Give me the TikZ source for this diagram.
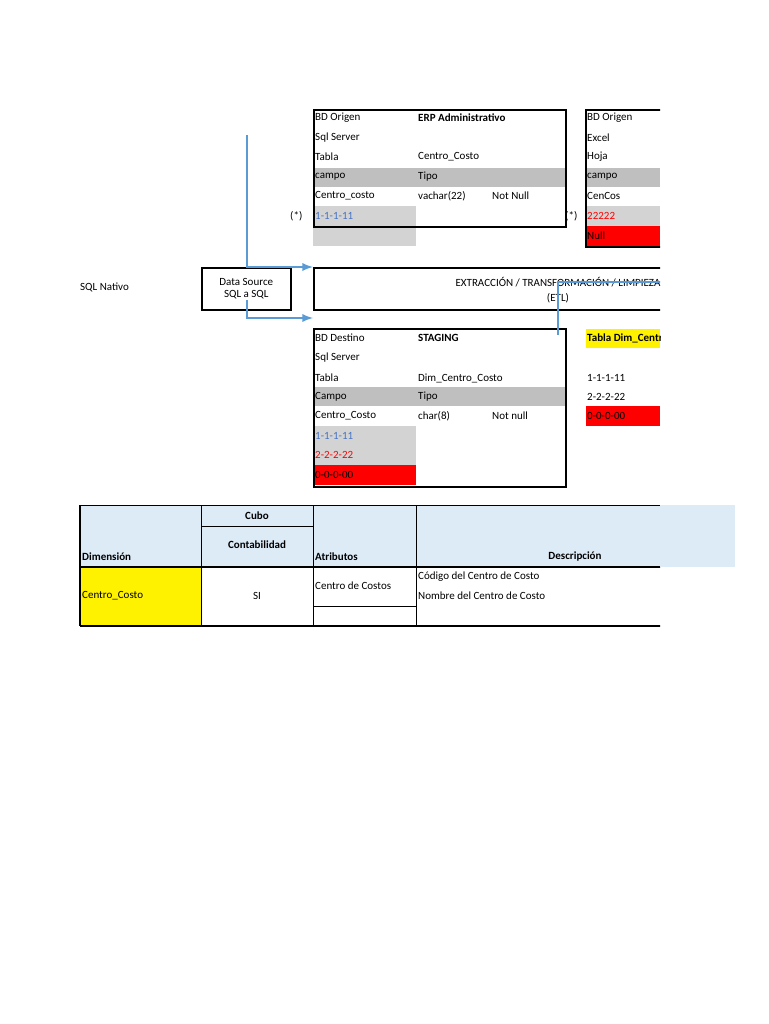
\documentclass[tikz,border=0pt]{standalone}
\usepackage{fontspec}
\setmainfont{Carlito}
\begin{document}
\begin{tikzpicture}[x=1pt,y=-1pt,
  t/.style={anchor=west,inner sep=0pt,font=\fontsize{11}{12}\selectfont},
  tb/.style={t,font=\fontsize{11}{12}\selectfont\bfseries},
  box/.style={draw=black,line width=1.6pt},
  conn/.style={draw={rgb,255:red,91;green,155;blue,213},line width=2.6pt},
  arr/.style={conn,-latex}]
\definecolor{lg}{RGB}{211,211,211}
\definecolor{mg}{RGB}{191,191,191}
\definecolor{hb}{RGB}{221,235,247}
\definecolor{bl}{RGB}{68,114,196}
\useasboundingbox (0,0) rectangle (768,1024);
\fill[white] (0,0) rectangle (768,1024);
\begin{scope}
\clip (0,0) rectangle (660,1024);
% Box 1
\fill[mg] (313,168) rectangle (565,187);
\fill[lg] (313,206) rectangle (416,246);
\node[box,minimum width=252pt,minimum height=117pt,anchor=north west,inner sep=0pt] (b1) at (313,109) {};
\node[t] (b1a) at (315,118) {BD Origen}; \node[tb] at (418,118) {ERP Administrativo};
\node[t] at (315,138) {Sql Server};
\node[t] at (315,157) {Tabla}; \node[t] at (418,157) {Centro\_Costo};
\node[t] at (315,177) {campo}; \node[t] at (418,177) {Tipo};
\node[t] at (315,196) {Centro\_costo}; \node[t] at (418,196) {vachar(22)}; \node[t] at (492,196) {Not Null};
\node[t,text=bl] at (315,216) {1-1-1-11};
\node[t] at (290,216) {(*)};
% Box 2
\fill[mg] (585,168) rectangle (660,187);
\fill[lg] (585,206) rectangle (660,226);
\fill[red] (585,226) rectangle (660,246);
\node[box,minimum width=120pt,minimum height=137pt,anchor=north west,inner sep=0pt] (b2) at (585,109) {};
\node[t] at (587,118) {BD Origen};
\node[t] at (587,138) {Excel};
\node[t] at (587,157) {Hoja};
\node[t] at (587,177) {campo};
\node[t] at (587,196) {CenCos};
\node[t,text=red] at (587,216) {22222};
\node[t] at (587,236) {Null};
\node[t] at (565,216) {(*)};
% Source
\node[t] (sqln) at (80,287) {SQL Nativo};
\node[box,minimum width=89pt,minimum height=42pt,anchor=north west,inner sep=0pt,align=center,font=\fontsize{11}{12}\selectfont] (ds) at (201,267) {Data Source\\SQL a SQL};
\node[box,minimum width=420pt,minimum height=42pt,anchor=north west,inner sep=0pt] (etl) at (313,267) {};
\node[inner sep=0pt,align=center,font=\fontsize{11}{15}\selectfont] (etlt) at (558,290) {EXTRACCIÓN / TRANSFORMACIÓN / LIMPIEZA\\(ETL)};
% Box 3
\fill[mg] (313,387) rectangle (565,406);
\fill[lg] (313,426) rectangle (416,465);
\fill[red] (313,465) rectangle (416,485);
\node[box,minimum width=252pt,minimum height=158pt,anchor=north west,inner sep=0pt] (b3) at (313,328) {};
\node[t] (b3a) at (315,338) {BD Destino}; \node[tb] at (418,338) {STAGING};
\node[t] at (315,358) {Sql Server};
\node[t] at (315,378) {Tabla}; \node[t] at (418,378) {Dim\_Centro\_Costo};
\node[t] at (315,397) {Campo}; \node[t] at (418,397) {Tipo};
\node[t] at (315,416) {Centro\_Costo}; \node[t] at (418,416) {char(8)}; \node[t] at (492,416) {Not null};
\node[t,text=bl] at (315,436) {1-1-1-11};
\node[t,text=red] at (315,455) {2-2-2-22};
\node[t] at (315,475) {0-0-0-00};
% right list
\fill[yellow] (586,329) rectangle (660,348);
\fill[red] (586,406) rectangle (660,426);
\node[tb] at (587,338) {Tabla Dim\_Centro\_Costo};
\node[t] at (587,378) {1-1-1-11};
\node[t] at (587,397) {2-2-2-22};
\node[t] at (587,416) {0-0-0-00};
% connectors
\coordinate (c1) at (247,135);
\coordinate (c2) at (247,300);
\coordinate (c3) at (558,335);
\draw[arr] (c1) |- (etl.north west);
\draw[arr] (c2) |- ([yshift=10pt]b3.north west);
\draw[conn] (c3) |- (700,282);
% table
\fill[hb] (80,505) rectangle (735,567);
\fill[yellow] (80,567) rectangle (201,626);
\draw[line width=0.8pt] (80,505) -- (735,505);
\draw[line width=0.8pt] (201,526) -- (313,526);
\draw[line width=1.6pt] (80,567) -- (735,567);
\draw[line width=1.6pt] (80,626) -- (735,626);
\draw[line width=0.8pt] (313,606) -- (416,606);
\draw[line width=1.2pt] (80,505) -- (80,626);
\foreach \x in {201,313,416} \draw[line width=0.8pt] (\x,505) -- (\x,626);
\node[tb] (h1) at (82,557) {Dimensión};
\node[tb,anchor=center] (h2) at (257,516) {Cubo};
\node[tb,anchor=center] (h3) at (257,545) {Contabilidad};
\node[tb] (h4) at (315,557) {Atributos};
\node[tb,anchor=center] (h5) at (575,557) {Descripción};
\node[t] (r1) at (82,596) {Centro\_Costo};
\node[t,anchor=center] (r2) at (257,596) {SI};
\node[t] (r3) at (315,586) {Centro de Costos};
\node[t] (r4) at (418,577) {Código del Centro de Costo};
\node[t] (r5) at (418,596) {Nombre del Centro de Costo};
\end{scope}
\fill[hb] (660,505) rectangle (735,567);
\end{tikzpicture}
\end{document}
